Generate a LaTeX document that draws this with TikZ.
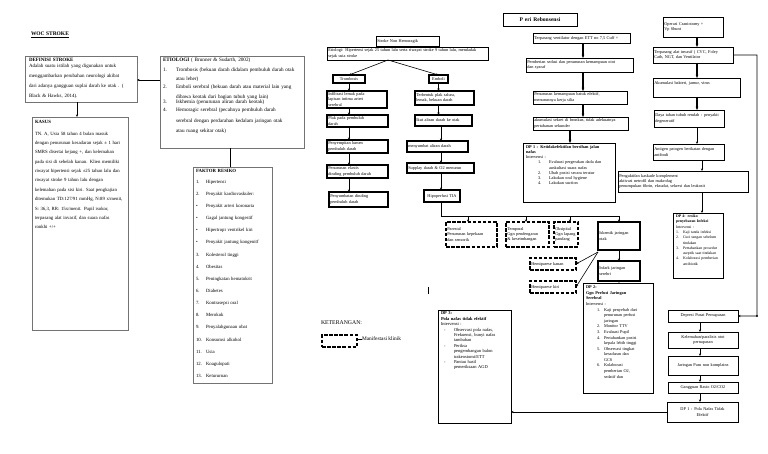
\documentclass[tikz,border=0pt]{standalone}
\usepackage{fontspec}
\setmainfont{Liberation Serif}
\usetikzlibrary{arrows.meta}
\newcommand\fa{\fontsize{4.3}{5.3}\selectfont}
\newcommand\fb{\fontsize{5}{6}\selectfont}
\newcommand\jl[1]{\makebox[\linewidth][s]{#1}}
\newlength\bxw
\def\bxis{1.3}
\newcommand\bx[7][]{%
  \pgfmathsetlength\bxw{(#5-2*\bxis)*1bp}%
  \node[box,inner sep=\bxis bp,minimum width=#5bp,minimum height=#6bp,text width=\the\bxw,#1] (#2) at (#3,#4) {#7};}
\begin{document}
\begin{tikzpicture}[x=1bp,y=-1bp,
  every node/.style={inner sep=0pt,outer sep=0pt},
  box/.style={draw,line width=0.7bp,font=\fa,align=left,anchor=north west},
  lbox/.style={draw=black!55,line width=0.9bp,anchor=north west},
  tbox/.style={line width=1.4bp},
  dbox/.style={line width=1.1bp,dash pattern=on 3.5bp off 1.6bp},
  txt/.style={anchor=north west,align=left,inner sep=0pt},
  arr/.style={-{Stealth[length=3.2bp,width=2.6bp]},line width=1.1bp},
  sarr/.style={-{Stealth[length=2.6bp,width=2.2bp]},line width=0.6bp},
  ln/.style={line width=0.6bp}]
\useasboundingbox (0,0) rectangle (768,454);
\fill[white] (0,0) rectangle (768,454);

% ---------- left column ----------
\node[anchor=west,font=\fontsize{5.5}{6}\selectfont\bfseries] (woc) at (31,35) {\underline{WOC STROKE}};

\node[lbox,minimum width=112bp,minimum height=46bp] (defn) at (25,56) {};
\node[txt,text width=104bp,font=\fb] (defn-t) at (29,58) {\textbf{DEFINISI STROKE}\\
\jl{Adalah suatu istilah yang digunakan untuk}\\[4bp]
\jl{menggambarkan perubahan neurologi akibat}\\[4bp]
\jl{dari adanya gangguan suplai darah ke otak . (}\\[4bp]
Black \& Hawks, 2014).};

\node[lbox,minimum width=96bp,minimum height=213bp] (kasus) at (32,117) {};
\node[txt,text width=90bp,font=\fontsize{4.8}{9.4}\selectfont] (kasus-t) at (35,120) {\textbf{KASUS}\\[2.6bp]
\jl{TN. A, Usia 58 tahun 4 bulan masuk}\\
\jl{dengan penurunan kesadaran sejak ± 1 hari}\\
\jl{SMRS disertai kejang +, dan kelemahan}\\
\jl{pada sisi di sebelah kanan. Klien memiliki}\\
\jl{riwayat hipertensi sejak ±25 tahun lalu dan}\\
\jl{riwayat stroke 9 tahun lalu dengan}\\
\jl{kelemahan pada sisi kiri. Saat pengkajian}\\
\jl{ditemukan TD:127/91 mmHg, N:89 x/menit,}\\
\jl{S: 36,3, RR: 15x/menit. Pupil isokor,}\\
\jl{terpasang alat invasif, dan suara nafas}\\
ronkhi +/+};

\node[lbox,minimum width=144bp,minimum height=92bp] (etio) at (160,56) {};
\node[txt,text width=140bp,font=\fontsize{5.2}{6}\selectfont] (etio-t) at (163,58) {\textbf{ETIOLOGI} ( Brunner \& Sudarth, 2002)\\[4bp]
\makebox[13bp][l]{1.}Trombosis (bekuan darah didalam pembuluh darah otak\\[3bp]
\hspace*{13bp}atau leher)\\[2bp]
\makebox[13bp][l]{2.}Emboli serebral (bekuan darah atau material lain yang\\[4bp]
\hspace*{13bp}dibawa keotak dari bagian tubuh yang lain)\\[-1bp]
\makebox[13bp][l]{3.}Iskhemia (penurunan aliran darah keotak)\\[2bp]
\makebox[13bp][l]{4.}\makebox[124bp][s]{Hemoragic serebral (pecahnya pembuluh darah}\\[5bp]
\hspace*{13bp}\makebox[124bp][s]{serebral dengan perdarahan kedalam jaringan otak}\\[4bp]
\hspace*{13bp}atau ruang sekitar otak)};

\node[lbox,minimum width=79bp,minimum height=216bp] (faktor) at (193,167) {};
\node[txt,text width=74bp,font=\fontsize{4.8}{12.2}\selectfont] (faktor-t) at (196,169) {\textbf{FAKTOR RESIKO}\\[-1.2bp]
\makebox[10bp][l]{1.}Hipertensi\\
\makebox[10bp][l]{2.}Penyakit kardiovaskuler:\\
\makebox[10bp][l]{\textbullet}Penyakit arteri koronaria\\
\makebox[10bp][l]{\textbullet}Gagal jantung kongestif\\
\makebox[10bp][l]{\textbullet}Hipertropi ventrikel kiri\\
\makebox[10bp][l]{\textbullet}Penyakit jantung kongenitf\\
\makebox[10bp][l]{3.}Kolesterol tinggi\\
\makebox[10bp][l]{4.}Obesitas\\
\makebox[10bp][l]{5.}Peningkatan hematokrit\\
\makebox[10bp][l]{6.}Diabetes\\
\makebox[10bp][l]{7.}Kontrasepsi oral\\
\makebox[10bp][l]{8.}Merokok\\
\makebox[10bp][l]{9.}Penyalahgunaan obat\\
\makebox[10bp][l]{10.}Konsumsi alkohol\\
\makebox[10bp][l]{11.}Usia\\
\makebox[10bp][l]{12.}Koagulopati\\
\makebox[10bp][l]{13.}Ketururnan};

\draw[sarr] (etio.west |- 0,80) -- (defn.east |- 0,80);
\draw[sarr] (defn.south -| 77,0) -- (kasus.north -| 77,0);
\draw[ln] (etio.south -| 230,0) -- (faktor.north -| 230,0);

% ---------- middle column ----------
\bx{snh}{376}{36}{63}{10}{Stroke Non Hemoragik}
\bx{etio2}{327}{47}{161}{13}{Etiologi: Hipertensi sejak 25 tahun lalu serta riwayat stroke 9 tahun lalu, mendadak\\sejak usia stroke}
\bx[tbox,align=center]{trom}{333}{75}{32}{8}{Trombosis}
\bx[tbox,align=center]{emb}{429}{75}{19}{8}{Emboli}
\coordinate (split) at (388,60);
\draw[sarr] (split) -- (trom.north);
\draw[sarr] (split) -- (emb.north);

\bx[tbox]{infil}{327}{91}{60}{17}{Infiltrasi lemak pada\\lapisan intima arteri\\serebral}
\bx[tbox]{plak}{327}{115}{61}{12}{Plak pada pembuluh\\darah}
\bx[tbox]{sempit}{327}{140}{61}{13}{Penyempitan lumen\\pembuluh darah}
\bx[tbox]{elast}{327}{165}{61}{13}{Penurunan elastis\\dinding pembuluh darah}
\bx[tbox]{sumbat}{329}{192}{59}{15}{Penyumbatan dinding\\pembuluh darah}
\draw[sarr] (trom.south) -- (trom.south |- infil.north);
\draw[sarr] (infil.south -| trom.south) -- (trom.south |- plak.north);
\draw[sarr] (plak.south -| trom.south) -- (trom.south |- sempit.north);
\draw[sarr] (sempit.south -| trom.south) -- (trom.south |- elast.north);
\draw[sarr] (elast.south -| trom.south) -- (trom.south |- sumbat.north);

\bx[tbox]{bentuk}{415}{91}{59}{14}{Terbentuk plak salura,\\lemak, bekuan darah}
\bx[tbox]{ikut}{415}{115}{57}{11}{Ikut aliran darah ke otak}
\bx[tbox]{sumbat2}{407}{141}{61}{11}{menyumbat aliran darah}
\bx[tbox]{supply}{407}{163}{67}{10}{Supplay darah \& O2 menurun}
\bx[tbox,align=center]{hipo}{424}{190}{36}{12}{Hipoperfusi TIA}
\draw[sarr] (emb.south) -- (emb.south |- bentuk.north);
\draw[sarr] (bentuk.south -| emb.south) -- (emb.south |- ikut.north);
\draw[sarr] (ikut.south -| 441,0) -- (sumbat2.north -| 441,0);
\draw[sarr] (sumbat2.south -| 441,0) -- (supply.north -| 441,0);
\draw[sarr] (supply.south -| 441,0) -- (hipo.north -| 441,0);

% manifestations
\bx[dbox]{parestal}{446}{222}{51}{25}{Parestal\\Penurunan kepekaan\\dan sensorik}
\bx[dbox]{temporal}{506}{222}{43}{25}{Temporal\\Ggn pendengaran\\\& keseimbangan}
\bx[dbox]{oksip}{554}{222}{24}{25}{Oksipital\\Ggn lapang\\pandang}
\bx[tbox]{iskemik}{598}{222}{42}{28}{Iskemik jaringan\\otak}
\coordinate (busL) at (441,216);
\coordinate (busR) at (619,216);
\draw[ln] (hipo.south -| busL) -- (busL) -- (busR);
\draw[sarr] (busL -| 468,0) -- (parestal.north -| 468,0);
\draw[sarr] (busL -| 526,0) -- (temporal.north -| 526,0);
\draw[sarr] (busL -| 570,0) -- (oksip.north -| 570,0);
\draw[sarr] (busR) -- (iskemik.north -| busR);

\bx[dbox]{hkanan}{530}{258}{46}{12}{Hemiparese kanan}
\bx[dbox]{hkiri}{530}{281}{46}{12}{Hemiparese kiri}
\coordinate (hsrc) at (598,252);
\draw[sarr] (hsrc) -- (hkanan.east);
\draw[sarr] (hsrc) -- (hkiri.east);

\bx[tbox]{infark}{598}{261}{42}{20}{Infark jaringan\\serebri}
\draw[sarr] (iskemik.south -| busR) -- (infark.north -| busR);

\node[box,minimum width=70bp,minimum height=110bp] (dp2) at (583,283) {};
\node[txt,text width=66bp,font=\fontsize{4.3}{5.6}\selectfont] (dp2-t) at (586,286) {\textbf{DP 2:}\\\textbf{Ggn Perfusi Jaringan}\\\textbf{Serebral}\\Intervensi :\\
\hspace*{11bp}\makebox[7bp][l]{1.}Kaji penyebab dari\\\hspace*{18bp}penurunan perfusi\\\hspace*{18bp}jaringan\\
\hspace*{11bp}\makebox[7bp][l]{2.}Monitor TTV\\
\hspace*{11bp}\makebox[7bp][l]{3.}Evaluasi Pupil\\
\hspace*{11bp}\makebox[7bp][l]{4.}Pertahankan posisi\\\hspace*{18bp}kepala lebih tinggi\\
\hspace*{11bp}\makebox[7bp][l]{5.}Observasi tingkat\\\hspace*{18bp}kesadaran dan\\\hspace*{18bp}GCS\\
\hspace*{11bp}\makebox[7bp][l]{6.}Kolaborasi\\\hspace*{18bp}pemberian O2,\\\hspace*{18bp}sedatif dan};
\draw[sarr] (infark.south -| busR) -- (dp2.north -| busR);

\node[box,minimum width=73bp,minimum height=113bp] (dp3) at (438,310) {};
\node[txt,text width=70bp,font=\fontsize{4.5}{5.4}\selectfont] (dp3-t) at (441,312) {\textbf{DP 3:}\\\textbf{Pola nafas tidak efektif}\\Intervensi :\\
\hspace*{3bp}\makebox[10bp][l]{-}Observasi pola nafas,\\\hspace*{13bp}Frekuensi, bunyi nafas\\\hspace*{13bp}tambahan\\
\hspace*{3bp}\makebox[10bp][l]{-}Periksa\\\hspace*{13bp}pengembangan balon\\\hspace*{13bp}trakeostomi/ETT\\
\hspace*{3bp}\makebox[10bp][l]{-}Pantau hasil\\\hspace*{13bp}pemeriksaan AGD};

% stray tick seen in the reference
\coordinate (tickA) at (428,287);
\coordinate (tickB) at (428,294);
\draw[ln] (tickA) -- (tickB);

% legend
\node[anchor=west,font=\fontsize{5.8}{6}\selectfont] (ket) at (321,323) {KETERANGAN:};
\node[box,dbox,minimum width=35bp,minimum height=12bp] (legbox) at (322,335) {};
\node[anchor=west,font=\fontsize{5.4}{6}\selectfont] (legtxt) at (362,339) {Manifestasi klinik};
\draw[ln] (legbox.east |- 0,339) -- (legtxt.west);

% ---------- peri column ----------
\bx[align=center,font=\fontsize{5.6}{6}\selectfont\bfseries]{peri}{503}{13}{74}{13}{P eri Rebonsensi}
\bx{vent}{533}{33}{97}{10}{Terpasang ventilator dengan ETT no 7,5 Cuff +}
\bx{sedasi}{526}{58}{107}{14}{Pemberian sedasi dan penurunan kemampuan otot\\dan syaraf}
\bx{batuk}{533}{91}{94}{13}{Penurunan kemampuan batuk efektif,\\menurunnya kerja silia}
\bx{sekret}{533}{117}{95}{13}{akumulasi sekret di bronkus, tidak adekuatnya\\pertahanan sekunder}
\draw[arr] (vent.south -| 583,0) -- (sedasi.north -| 583,0);
\draw[arr] (sedasi.south -| 583,0) -- (batuk.north -| 583,0);
\draw[arr] (batuk.south -| 583,0) -- (sekret.north -| 583,0);

\node[box,minimum width=92bp,minimum height=59bp] (dp1) at (523,143) {};
\node[txt,text width=90bp,font=\fontsize{4.3}{5.3}\selectfont] (dp1-t) at (526,145) {\textbf{DP 1 : Ketidakefektifan bersihan jalan}\\\textbf{nafas}\\Intervensi :\\
\hspace*{12bp}\makebox[11bp][l]{1.}Evaluasi pergerakan dada dan\\\hspace*{23bp}auskultasi suara nafas\\
\hspace*{12bp}\makebox[11bp][l]{2.}Ubah posisi secara teratur\\
\hspace*{12bp}\makebox[11bp][l]{3.}Lakukan oral hygiene\\
\hspace*{12bp}\makebox[11bp][l]{4.}Lakukan suction};
\draw[arr] (sekret.south -| 570,0) -- (dp1.north -| 570,0);

% ---------- right column ----------
\bx{op}{663}{17}{60}{20}{Operasi Craniotomy +\\Vp Shunt}
\bx{inv}{653}{47}{80}{16}{Terpasang alat invasif ( CVC, Foley\\Cath, NGT, dan Ventilator}
\bx{akum}{653}{78}{87}{19}{Akumulasi bakteri, jamur, virus\\[4bp]\mbox{}}
\bx{daya}{654}{110}{70}{17}{Daya tahan tubuh rendah : penyakit\\degeneratif}
\bx{anti}{653}{144}{71}{16}{Antigen patogen berikatan dengan\\antibodi}
\bx{aktif}{618}{171}{130}{21}{Pengaktifan kaskade komplement\\aktivasi netrofil dan makrofag\\penumpukan fibrin, eksudat, sekresi dan leukosit}
\draw[arr] (op.south -| 697,0) -- (inv.north -| 697,0);
\draw[arr] (inv.south -| 697,0) -- (akum.north -| 697,0);
\draw[arr] (akum.south -| 697,0) -- (daya.north -| 697,0);
\draw[sarr] (daya.south -| 697,0) -- (anti.north -| 697,0);
\draw[sarr] (anti.south -| 702,0) -- (aktif.north -| 702,0);

\node[box,minimum width=50bp,minimum height=65bp] (dp4) at (673,213) {};
\node[txt,text width=48bp,font=\fontsize{3.9}{5.3}\selectfont] (dp4-t) at (676,215) {\textbf{DP 4: resiko}\\\textbf{penyebaran Infeksi}\\Intervensi :\\
\makebox[7bp][l]{1.}Kaji tanda infeksi\\
\makebox[7bp][l]{2.}Cuci tangan sebelum\\\hspace*{7bp}tindakan\\
\makebox[7bp][l]{3.}Pertahankan prosedur\\\hspace*{7bp}aseptik saat tindakan\\
\makebox[7bp][l]{4.}Kolaborasi pemberian\\\hspace*{7bp}antibiotik};
\draw[sarr] (aktif.south -| 702,0) -- (dp4.north -| 702,0);

\bx[align=center]{depresi}{668}{310}{70}{12}{Depresi Pusat Pernapasan}
\bx[align=center]{lemah}{668}{332}{70}{16}{Kelemahan/paralisis otot\\pernapasan}
\bx[align=center]{paru}{668}{356}{70}{19}{Jaringan Paru non komplains}
\bx[align=center]{gangg}{668}{382}{70}{11}{Gangguan Rasio O2/CO2}
\bx[align=center]{dp1b}{667}{402}{71}{20}{DP 1 : Pola Nafas Tidak\\Efektif}
\draw[sarr] (depresi.south -| 700,0) -- (lemah.north -| 700,0);
\draw[sarr] (lemah.south -| 700,0) -- (paru.north -| 700,0);
\draw[sarr] (paru.south -| 700,0) -- (gangg.north -| 700,0);
\draw[sarr] (gangg.south -| 700,0) -- (dp1b.north -| 700,0);

\coordinate (rc1) at (757,55);
\coordinate (rc2) at (757,316);
\draw[ln] (inv.east) -- (rc1) -- (rc2);
\draw[sarr] (rc2) -- (depresi.east);
\fill (rc2) circle (1.1bp);

\draw[sarr] (dp1b.west) -- (dp1b.west -| dp3.east);
\end{tikzpicture}
\end{document}
